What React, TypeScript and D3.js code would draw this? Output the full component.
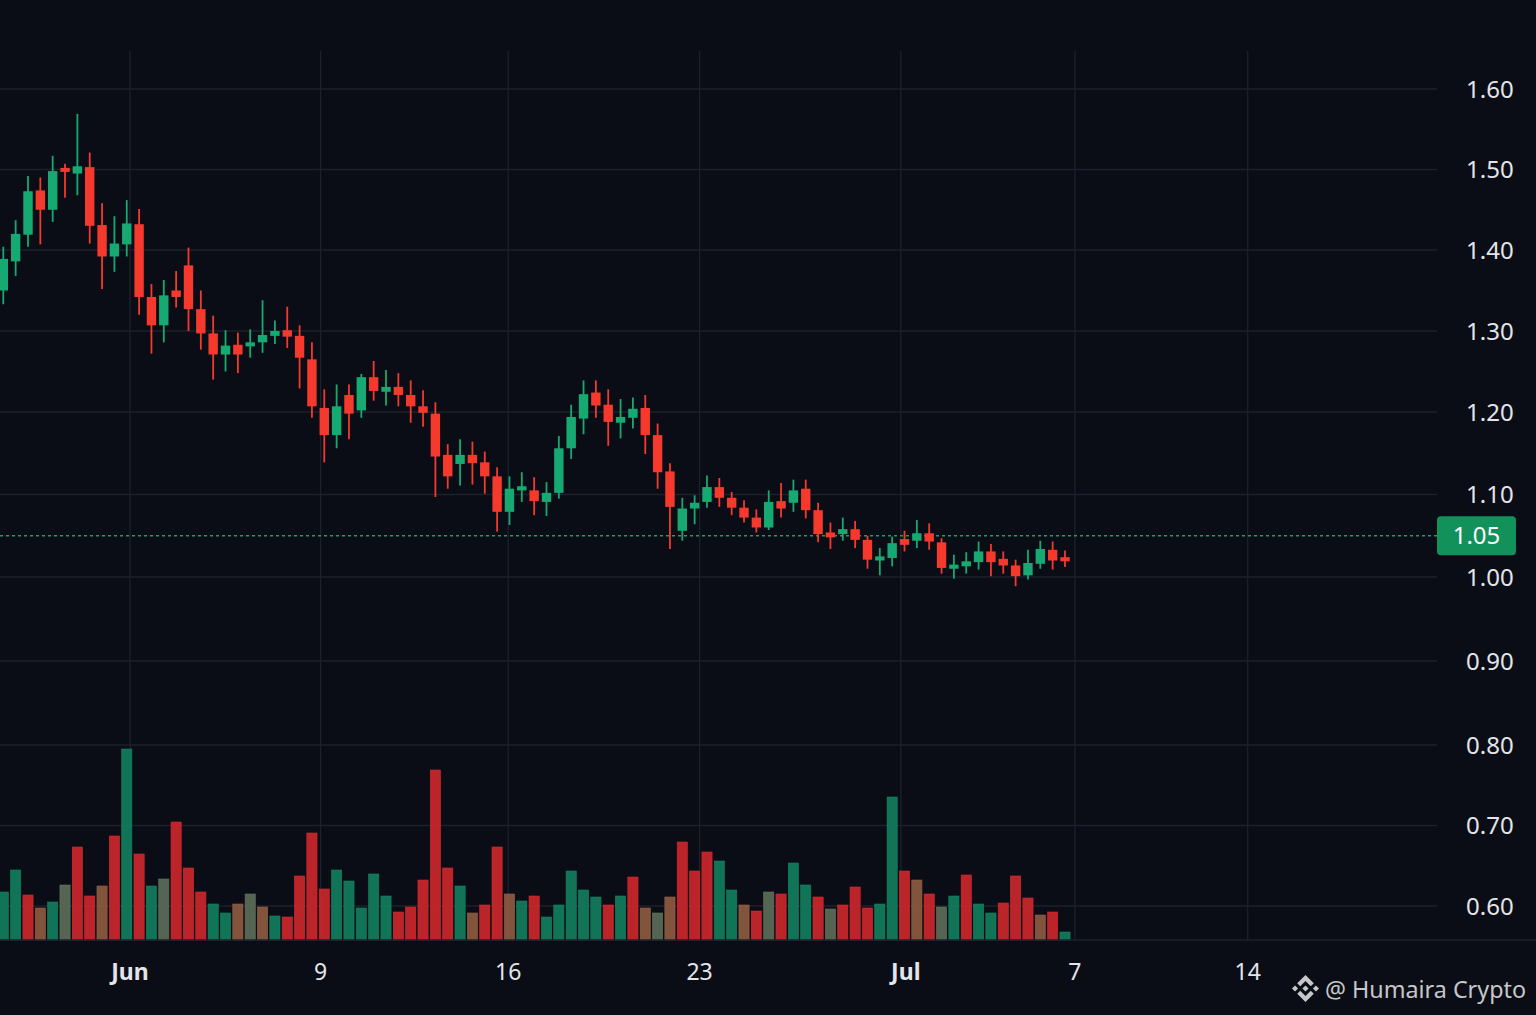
import React, { useEffect } from "react";
import * as d3 from "d3";

// ---- data (candle index based) ----
const opens = [1.350,1.386,1.419,1.474,1.450,1.502,1.495,1.503,1.431,1.392,1.407,1.432,1.342,1.307,1.350,1.381,1.327,1.297,1.271,1.283,1.281,1.286,1.294,1.301,1.294,1.265,1.205,1.172,1.221,1.202,1.243,1.225,1.231,1.221,1.207,1.198,1.148,1.137,1.148,1.139,1.122,1.079,1.105,1.105,1.091,1.102,1.156,1.192,1.224,1.209,1.187,1.193,1.205,1.172,1.128,1.056,1.083,1.091,1.109,1.096,1.084,1.072,1.060,1.092,1.090,1.107,1.081,1.054,1.052,1.058,1.045,1.020,1.023,1.046,1.044,1.053,1.042,1.010,1.013,1.018,1.031,1.022,1.014,1.002,1.016,1.033,1.024];
const highs = [1.404,1.437,1.492,1.490,1.517,1.507,1.569,1.521,1.458,1.442,1.462,1.451,1.358,1.363,1.374,1.403,1.350,1.319,1.301,1.298,1.302,1.338,1.313,1.330,1.307,1.286,1.228,1.234,1.234,1.247,1.263,1.252,1.248,1.239,1.227,1.212,1.161,1.167,1.164,1.152,1.133,1.122,1.127,1.121,1.115,1.171,1.209,1.239,1.239,1.228,1.216,1.218,1.221,1.186,1.138,1.096,1.099,1.123,1.120,1.103,1.093,1.082,1.105,1.114,1.118,1.118,1.090,1.066,1.072,1.068,1.050,1.035,1.049,1.056,1.069,1.065,1.047,1.027,1.030,1.043,1.040,1.031,1.021,1.033,1.044,1.043,1.032];
const lows = [1.333,1.368,1.404,1.407,1.435,1.465,1.468,1.408,1.352,1.373,1.392,1.320,1.272,1.286,1.329,1.300,1.277,1.240,1.250,1.248,1.267,1.273,1.284,1.279,1.229,1.193,1.139,1.156,1.167,1.193,1.214,1.208,1.207,1.187,1.182,1.097,1.107,1.111,1.112,1.101,1.055,1.063,1.091,1.075,1.074,1.095,1.143,1.173,1.193,1.159,1.168,1.180,1.149,1.107,1.034,1.044,1.064,1.084,1.085,1.075,1.066,1.054,1.057,1.072,1.079,1.071,1.042,1.034,1.044,1.035,1.010,1.002,1.013,1.031,1.035,1.033,1.004,0.998,1.004,1.009,1.001,1.004,0.989,0.997,1.010,1.009,1.012];
const closes = [1.389,1.420,1.473,1.450,1.498,1.497,1.504,1.430,1.392,1.408,1.433,1.342,1.307,1.344,1.342,1.327,1.297,1.271,1.282,1.271,1.286,1.295,1.300,1.293,1.267,1.207,1.172,1.207,1.198,1.243,1.226,1.231,1.221,1.207,1.199,1.146,1.122,1.148,1.138,1.122,1.079,1.107,1.110,1.092,1.102,1.156,1.194,1.222,1.208,1.188,1.194,1.204,1.172,1.127,1.085,1.083,1.090,1.109,1.096,1.084,1.072,1.060,1.091,1.083,1.105,1.081,1.052,1.048,1.058,1.045,1.021,1.025,1.041,1.039,1.053,1.043,1.011,1.015,1.019,1.031,1.018,1.014,1.001,1.017,1.034,1.020,1.019];
const volumes = [4.8,7.0,4.5,3.2,3.8,5.5,9.3,4.4,5.4,10.4,19.1,8.6,5.4,6.1,11.8,7.2,4.8,3.6,2.7,3.6,4.6,3.3,2.4,2.3,6.4,10.7,5.1,7.0,5.9,3.2,6.6,4.4,2.8,3.3,6.0,17.0,7.2,5.4,2.7,3.5,9.3,4.6,3.9,4.4,2.3,3.5,6.9,5.0,4.3,3.5,4.4,6.3,3.2,2.7,4.3,9.8,6.9,8.8,7.9,5.0,3.5,2.9,4.8,4.6,7.7,5.5,4.3,3.1,3.5,5.3,3.2,3.6,14.3,6.9,6.0,4.6,3.3,4.4,6.5,3.6,2.7,3.7,6.4,4.2,2.5,2.8,0.8];
// volume tone: G up, R down, B down-mixed, O up-mixed
const volumeTone = "GGRBGORRBRGRGORRRGGBOBGRRRRGGGGGRRRRRGBRRBGRGGGGGRGRBOBRRRGGBRORGGRORRRGGRBROGRGGRRRBRG".split("");
const tickLabels = ["Jun", "9", "16", "23", "Jul", "7", "14"];
const tickAt = [10.26, 25.7, 40.9, 56.4, 72.7, 86.8, 100.8];
const monthTicks = ["Jun", "Jul"];
const priceTicks = [0.6, 0.7, 0.8, 0.9, 1.0, 1.1, 1.2, 1.3, 1.4, 1.5, 1.6];
const lastPrice = 1.05;
const watermark = "@ Humaira Crypto";

const UP = "#16aa72";
const DOWN = "#f5392d";
const VOL_COLORS: Record<string, string> = { G: "#127d5d", R: "#cb272b", B: "#8c5b3f", O: "#5d6d58" };

export default function App() {
  useEffect(() => {
    document.body.style.margin = "0";
    document.body.style.background = "#0a0d16";
  }, []);

  const W = 1536, H = 1015;
  const plotRight = 1437;
  const paneTop = 51;
  const axisY = 940;

  const x = d3.scaleLinear().domain([0, opens.length - 1]).range([3.3, 1065]);
  // price axis (slightly uneven spacing as in the source chart)
  const y = d3.scaleLinear().domain([0.6, 0.8, 1.0, 1.2, 1.4, 1.6]).range([906, 745, 577, 412, 250, 89]);
  const yv = d3.scaleLinear().domain([0, 20]).range([axisY, axisY - 200]);
  const fmt = d3.format(".2f");

  const bodyW = 9.4;
  const volW = 10.2;

  // Binance-like logo polygons (normalized)
  const top = [[-0.388, -0.16], [0, -0.551], [0.389, -0.159], [0.615, -0.385], [0, -1], [-0.614, -0.386]];
  const logoPolys = [
    top,
    top.map(([a, b]) => [a, -b]),
    [[-1, 0], [-0.774, -0.226], [-0.548, 0], [-0.774, 0.226]],
    [[1, 0], [0.774, -0.226], [0.548, 0], [0.774, 0.226]],
    [[0.23, 0], [0, -0.23], [-0.23, 0], [0, 0.23]],
  ];
  const lcx = 1305.5, lcy = 988.5, ls = 13.5;

  return (
    <div style={{ position: "fixed", left: 0, top: 0 }}>
      <svg width={W} height={H} style={{ display: "block", background: "#0a0d16" }} fontFamily="'Noto Sans', sans-serif">
        <rect x={0} y={0} width={W} height={H} fill="#0a0d16" />
        {/* horizontal grid */}
        {priceTicks.map((t) => (
          <line key={"hg" + t} x1={0} x2={plotRight} y1={y(t)} y2={y(t)} stroke="#1d212c" strokeWidth={1.3} />
        ))}
        {/* vertical grid */}
        {tickAt.map((t, i) => (
          <line key={"vg" + i} x1={x(t)} x2={x(t)} y1={paneTop} y2={axisY} stroke="#1d212c" strokeWidth={1.3} />
        ))}
        {/* volume */}
        {volumes.map((v, i) => (
          <rect key={"v" + i} x={x(i) - volW / 2} y={yv(v)} width={volW} height={axisY - yv(v)}
            fill={VOL_COLORS[volumeTone[i]]} stroke={d3.color(VOL_COLORS[volumeTone[i]])!.brighter(0.4).toString()} strokeWidth={0.6} opacity={0.92} />
        ))}
        {/* last price line */}
        <line x1={0} x2={plotRight} y1={y(lastPrice)} y2={y(lastPrice)} stroke="#1f9e63" strokeWidth={1.3} strokeDasharray="3 3" />
        {/* candles */}
        {opens.map((o, i) => {
          const c = closes[i];
          const up = c >= o;
          const col = up ? UP : DOWN;
          const yt = y(Math.max(o, c));
          const yb = y(Math.min(o, c));
          const h = Math.max(yb - yt, 2);
          return (
            <g key={"c" + i}>
              <line x1={x(i)} x2={x(i)} y1={y(highs[i])} y2={y(lows[i])} stroke={col} strokeWidth={1.8} />
              <rect x={x(i) - bodyW / 2} y={yt} width={bodyW} height={h} fill={col} />
            </g>
          );
        })}
        {/* bottom axis line */}
        <line x1={0} x2={W} y1={axisY} y2={axisY} stroke="#1d212c" strokeWidth={1.5} />
        {/* y labels */}
        {priceTicks.map((t) => (
          <text key={"yl" + t} x={1466} y={y(t) + 8.5} fill="#e3e5ea" fontSize={24}>{fmt(t)}</text>
        ))}
        {/* last price tag */}
        <rect x={1437} y={y(lastPrice) - 19.5} width={79} height={39} rx={4} fill="#12915a" />
        <text x={1476.5} y={y(lastPrice) + 8.5} fill="#ffffff" fontSize={24} textAnchor="middle">{fmt(lastPrice)}</text>
        {/* x labels */}
        {tickLabels.map((l, i) => (
          <text key={"xl" + i} x={x(tickAt[i]) + (l === "Jul" ? 5 : 0)} y={980} fill="#e3e5ea" fontSize={23}
            fontWeight={monthTicks.includes(l) ? 700 : 400} textAnchor="middle">{l}</text>
        ))}
        {/* watermark */}
        <g fill="#c6c7c9">
          {logoPolys.map((p, i) => (
            <polygon key={"lg" + i} points={p.map(([a, b]) => `${lcx + a * ls},${lcy + b * ls}`).join(" ")} />
          ))}
        </g>
        <text x={1325} y={997.5} fill="#c6c7c9" fontSize={24} textLength={201} lengthAdjust="spacingAndGlyphs">{watermark}</text>
      </svg>
    </div>
  );
}
